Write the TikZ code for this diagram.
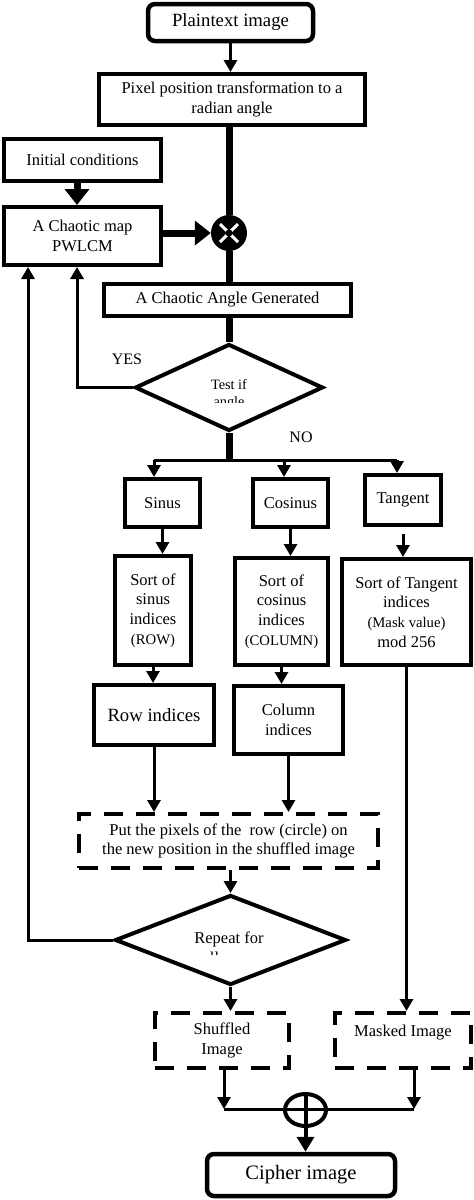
\documentclass[tikz,border=0pt]{standalone}
\usepackage{fontspec}
\setmainfont{Liberation Serif}
\usetikzlibrary{arrows.meta,shapes.geometric}
\newcommand{\notefont}{\fontsize{14.7}{17.6}\selectfont}
\tikzset{
  blk/.style={draw, line width=4pt, align=center, inner sep=0pt, font=\fontsize{16.5}{19.8}\selectfont},
  rblk/.style={blk, rounded corners=7pt, line width=4.5pt},
  dblk/.style={blk, dash pattern=on 19pt off 13pt},
  decide/.style={diamond, draw, line width=4pt, inner sep=0pt},
  link/.style={line width=3pt, -{Triangle[length=12pt,width=13pt]}},
  bigarrow/.style={line width=7pt, -{Triangle[length=16pt,width=24pt]}},
  bus/.style={line width=3pt},
  trunk/.style={line width=7pt},
}
\begin{document}
\begin{tikzpicture}[x=1pt,y=-1pt]
\useasboundingbox (0,0) rectangle (474,1200);%

% Drawing box Plaintext image
\node (plain) at (230.5,22.5) [rblk, minimum width=165pt, minimum height=37pt, font=\fontsize{18.7}{22}\selectfont] {Plaintext image};%

% Drawing box Pixel position
\node (pixel) at (232,99.5) [blk, minimum width=266pt, minimum height=51pt] {Pixel position transformation to a\\radian angle};%

% Drawing boxes Initial conditions and Chaotic map
\node (init) at (82.5,160) [blk, minimum width=157pt, minimum height=42pt] {Initial conditions};%
\node (chaos) at (82.5,236) [blk, minimum width=157pt, minimum height=58pt] {A Chaotic map\\PWLCM};%

% Marking mixing point by circle
\node (xmul) at (229,233) [circle, fill=black, minimum size=36pt, inner sep=0pt] {};%
\draw [white, line width=3pt] ([shift={(-9,-9)}]xmul.center) -- ([shift={(9,9)}]xmul.center);%
\draw [white, line width=3pt] ([shift={(-9,9)}]xmul.center) -- ([shift={(9,-9)}]xmul.center);%
\fill (xmul.center) circle (3.5);%

% Drawing box Chaotic angle
\node (angle) at (227.5,300) [blk, minimum width=247pt, minimum height=32pt] {A Chaotic Angle Generated};%

% Drawing test diamond
\node (test) at (229,387.5) [decide, minimum width=188pt, minimum height=87pt] {};%
\node (testtop) at (229,389) [anchor=base, font=\fontsize{14.3}{17.2}\selectfont] {Test if};%
\begin{scope}
\clip (140,380) rectangle (320,402);%
\node (testbot) at (229,406) [anchor=base, font=\fontsize{14.3}{17.2}\selectfont] {angle};%
\end{scope}

% Marking YES and NO
\node (yes) at (127,359) [font=\fontsize{16}{19}\selectfont] {YES};%
\node (no) at (301,437) [font=\fontsize{16}{19}\selectfont] {NO};%

% Drawing boxes Sinus, Cosinus, Tangent
\node (sinus) at (162.5,503) [blk, minimum width=75pt, minimum height=48pt] {Sinus};%
\node (cosinus) at (290.5,503) [blk, minimum width=75pt, minimum height=48pt] {Cosinus};%
\node (tangent) at (403,500) [blk, minimum width=76pt, minimum height=50pt] {Tangent};%

% Drawing sort boxes
\node (sortsin) at (153,610.5) [blk, minimum width=76pt, minimum height=109pt] {Sort of\\sinus\\indices\\{\notefont (ROW)}};%
\node (sortcos) at (281.5,611.5) [blk, minimum width=93pt, minimum height=107pt] {Sort of\\cosinus\\indices\\{\notefont (COLUMN)}};%
\node (sorttan) at (406.5,612) [blk, minimum width=129pt, minimum height=106pt] {Sort of Tangent\\indices\\{\notefont (Mask value)}\\mod 256};%

% Drawing index boxes
\node (rowidx) at (154,715) [blk, minimum width=120pt, minimum height=60pt, font=\fontsize{18.7}{22}\selectfont] {Row indices};%
\node (colidx) at (288.5,720) [blk, minimum width=109pt, minimum height=68pt] {Column\\indices};%

% Drawing dashed box Put the pixels
\node (put) at (228.5,841) [dblk, minimum width=299pt, minimum height=54pt] {Put the pixels of the\ \ row (circle) on\\the new position in the shuffled image};%

% Drawing repeat diamond
\node (repeat) at (230.5,940) [decide, minimum width=231pt, minimum height=90pt] {};%
\node (reptop) at (229,943) [anchor=base, font=\fontsize{16.5}{19.8}\selectfont] {Repeat for};%
\begin{scope}
\clip (150,930) rectangle (310,954.5);%
\node (repbot) at (229,963) [anchor=base, font=\fontsize{16.5}{19.8}\selectfont] {all rows};%
\end{scope}

% Drawing dashed boxes Shuffled and Masked
\node (shuffled) at (222,1040.5) [dblk, minimum width=134pt, minimum height=55pt] {Shuffled\\Image};%
\node (masked) at (403,1040.5) [dblk, minimum width=136pt, minimum height=55pt] {Masked Image\\\phantom{I}};%

% Marking xor point by ellipse
\node (xor) at (305.5,1110) [ellipse, draw, line width=4pt, minimum width=41pt, minimum height=32pt, inner sep=0pt] {};%
\draw [line width=4pt] (xor.north) -- (xor.south);%

% Drawing box Cipher image
\node (cipher) at (301,1175) [rblk, minimum width=188pt, minimum height=42pt, font=\fontsize{20.5}{24}\selectfont] {Cipher image};%

% Corner points
\coordinate (yescorner) at (77,387.5);%
\coordinate (loopcorner) at (28,940);%
\coordinate (branch) at (229,460);%
\coordinate (brsin) at (154,460);%
\coordinate (brcos) at (284,460);%
\coordinate (brtan) at (397,460);%
\coordinate (joinshf) at (224,1109);%
\coordinate (joinmsk) at (414,1109);%

% Drawing connectors top part
\draw [link] (plain.south) -- (plain.south |- pixel.north);%
\draw [trunk] (pixel.south -| xmul) -- (xmul.north);%
\draw [trunk] (xmul.south) -- (xmul |- angle.north);%
\draw [trunk] (angle.south -| test) -- (test.north);%
\draw [bigarrow] (init.south -| yescorner) -- (chaos.north -| yescorner);%
\draw [bigarrow] (chaos.east |- xmul) -- (xmul.west);%
\draw [link] (test.west) -| (chaos.south -| yescorner);%
\draw [link] (repeat.west) -| (chaos.south -| loopcorner);%

% Drawing branch lines
\draw [trunk] (test.south) -- (branch);%
\draw [bus] (brsin) -- (brtan);%
\draw [link] (brsin) -- (brsin |- sinus.north);%
\draw [link] (brcos) -- (brcos |- cosinus.north);%
\draw [link] (brtan) -- (brtan |- tangent.north);%

% Drawing connectors middle part
\draw [link] (sinus.south) -- (sinus.south |- sortsin.north);%
\draw [link] (cosinus.south) -- (cosinus.south |- sortcos.north);%
\draw [link, shorten <=7pt] (tangent.south) -- (tangent.south |- sorttan.north);%
\draw [link] (sortsin.south) -- (sortsin.south |- rowidx.north);%
\draw [link] (sortcos.south) -- (sortcos.south |- colidx.north);%
\draw [link] (rowidx.south) -- (rowidx.south |- put.north);%
\draw [link] (colidx.south) -- (colidx.south |- put.north);%
\draw [link] (sorttan.south) -- (sorttan.south |- masked.north);%
\draw [link] (put.south -| repeat) -- (repeat.north);%
\draw [link] (repeat.south) -- (repeat.south |- shuffled.north);%

% Drawing connectors bottom part
\draw [link] (joinshf |- shuffled.south) -- (joinshf);%
\draw [link] (joinmsk |- masked.south) -- (joinmsk);%
\draw [bus] (joinshf) -- (joinmsk);%
\draw [line width=4pt, -{Triangle[length=15pt,width=17pt]}] (xor.south) -- (xor.south |- cipher.north);%
\end{tikzpicture}
\end{document}
